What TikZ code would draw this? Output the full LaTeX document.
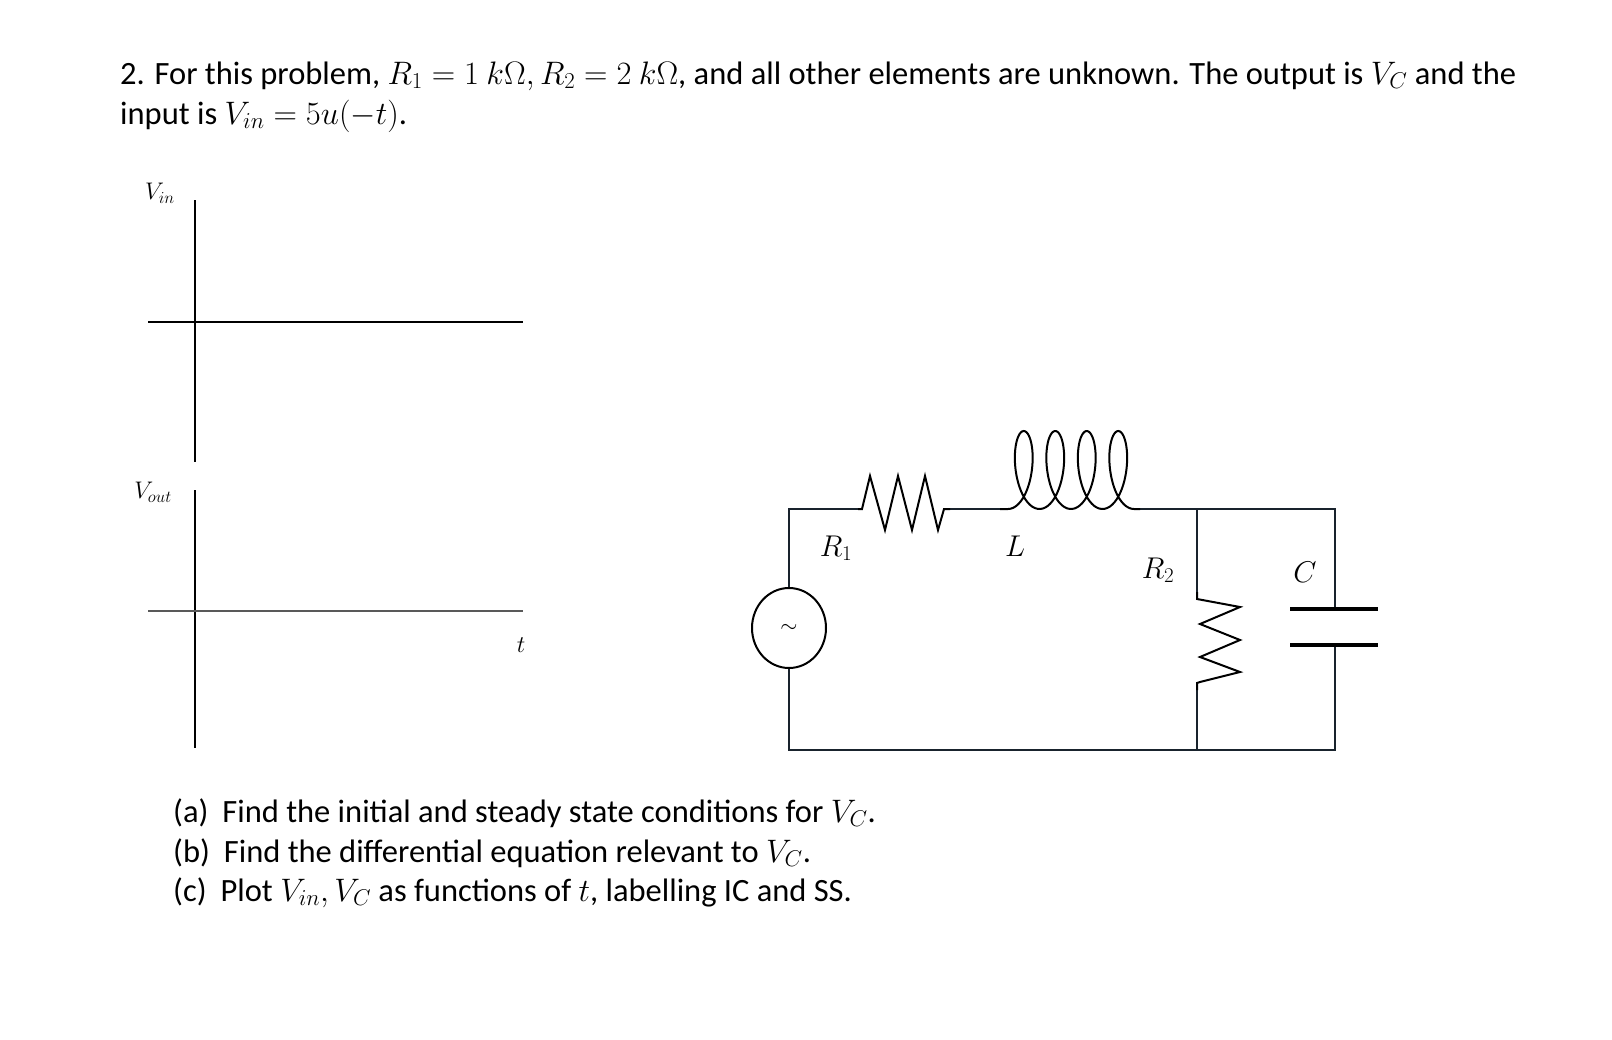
\RequirePackage{fix-cm}
\documentclass[tikz,border=0pt]{standalone}
\usepackage{fontspec}
\setmainfont{Carlito}
\usetikzlibrary{shapes.geometric}
\begin{document}
\begin{tikzpicture}[x=1pt,y=-1pt,
  wire/.style={line width=2.2pt,draw={rgb,255:red,25;green,35;blue,45}},
  comp/.style={line width=2pt,black,line join=miter},
  ax/.style={line width=1.3pt,black},
  txt/.style={font=\fontsize{32.5}{36}\selectfont,anchor=base west,inner sep=0pt},
  lbl/.style={font=\fontsize{30}{34}\selectfont,inner sep=0pt},
  slbl/.style={font=\fontsize{24}{28}\selectfont,inner sep=0pt}]
\useasboundingbox (0,0) rectangle (1612,1039);
\node[txt] (l1) at (120,84) {2. For this problem, $R_1=1\ k\Omega, R_2=2\ k\Omega$, and all other elements are unknown. The output is $V_C$ and the};
\node[txt] (l2) at (120,124) {input is $V_{in}=5u(-t)$.};
% plots
\coordinate (a1t) at (195,200); \coordinate (a1b) at (195,462);
\coordinate (h1l) at (148,322); \coordinate (h1r) at (523,322);
\draw[ax] (a1t) -- (a1b); \draw[ax] (h1l) -- (h1r);
\coordinate (a2t) at (195,490); \coordinate (a2b) at (195,748);
\coordinate (h2l) at (148,611); \coordinate (h2r) at (523,611);
\draw[ax] (a2t) -- (a2b); \draw[ax,gray!70!black] (h2l) -- (h2r);
\node[slbl] (vin) at (160,193) {$V_{in}$};
\node[slbl] (vout) at (153,492) {$V_{out}$};
\node[slbl] (tl) at (521,645) {$t$};
% circuit
\node[draw,ellipse,line width=2pt,minimum width=74pt,minimum height=80pt,inner sep=0pt,font=\fontsize{22}{26}\selectfont] (src) at (789,628) {$\sim$};
\coordinate (tl0) at (789,509); \coordinate (bl0) at (789,750);
\coordinate (r1a) at (858,509); \coordinate (r1b) at (950,509);
\coordinate (la) at (1000,509); \coordinate (lb) at (1140,509);
\coordinate (jt) at (1197,509); \coordinate (jb) at (1197,750);
\coordinate (rt) at (1335,509); \coordinate (rb) at (1335,750);
\coordinate (r2a) at (1197,592); \coordinate (r2b) at (1197,690);
\coordinate (c1) at (1335,609); \coordinate (c2) at (1335,645);
\draw[wire] (src.north) -- (tl0) -- (r1a);
\draw[wire] (r1b) -- (la);
\draw[wire] (lb) -- (rt) -- (c1);
\draw[wire] (c2) -- (rb) -- (bl0) -- (src.south);
\draw[wire] (jt) -- (r2a); \draw[wire] (r2b) -- (jb);
\draw[comp] (r1a) -- (862,509) -- (870,476) -- (885,530) -- (898,476) -- (912,530) -- (925,476) -- (938,530) -- (944,509) -- (r1b);
\draw[comp] (r2a) -- (1197,599) -- (1240,607) -- (1200,624) -- (1240,640) -- (1200,657) -- (1240,672) -- (1200,682) -- (1197,683) -- (r2b);
\draw[comp,smooth] (la) -- plot[domain=0:1440,samples=200] ({1008+0.0875*\x+16*sin(\x)},{509-39*(1-cos(\x))}) -- (lb);
\draw[line width=4pt] (1290,609) -- (1378,609);
\draw[line width=4pt] (1290,645) -- (1378,645);
\node[lbl] (lr1) at (836,548) {$R_1$};
\node[lbl] (lL) at (1015,546) {$L$};
\node[lbl] (lr2) at (1158,570) {$R_2$};
\node[lbl] (lC) at (1305,572) {$C$};
% questions
\node[txt] (qa) at (173,822) {(a)\hspace{14pt}Find the initial and steady state conditions for $V_C$.};
\node[txt] (qb) at (173,862) {(b)\hspace{14pt}Find the differential equation relevant to $V_C$.};
\node[txt] (qc) at (173,901) {(c)\hspace{14pt}Plot $V_{in}, V_C$ as functions of $t$, labelling IC and SS.};
\end{tikzpicture}
\end{document}
